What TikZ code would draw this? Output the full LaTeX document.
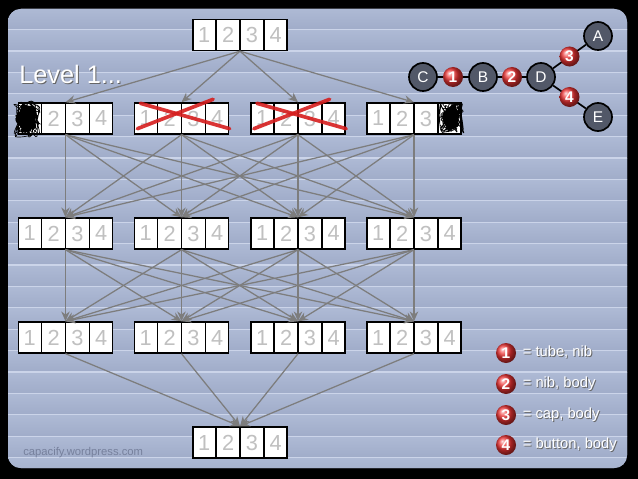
\documentclass[tikz,border=0pt]{standalone}
\usepackage{fontspec}
\setmainfont{Liberation Sans}
\usetikzlibrary{shapes.multipart,arrows.meta,positioning}

\definecolor{bgdark}{RGB}{160,172,201}
\definecolor{bglight}{RGB}{174,186,213}
\definecolor{stripe}{RGB}{203,212,233}
\definecolor{digit}{RGB}{192,192,192}
\definecolor{flowgray}{RGB}{125,125,125}
\definecolor{slate}{RGB}{82,88,104}
\definecolor{crossred}{RGB}{214,30,30}
\definecolor{ballred}{RGB}{238,52,52}
\definecolor{footer}{RGB}{118,128,156}

\newcommand\shadowed[1]{\leavevmode\rlap{\kern0.7pt\raisebox{-0.7pt}{\color{black!60}#1}}#1}

\begin{document}
\begin{tikzpicture}[
	x=0.025cm, y=-0.025cm,
	slotrow/.style={rectangle split, rectangle split horizontal, rectangle split parts=4,
		draw=black, line width=1pt, fill=white, inner xsep=0pt, inner ysep=0pt,
		text width=0.56cm, align=center, minimum height=0.775cm, text=digit,
		font=\fontsize{15.5}{15.5}\selectfont},
	flow/.style={draw=flowgray, line width=0.9pt, -{Stealth[length=7pt,width=6pt]}},
	cross/.style={draw=crossred, line width=2.6pt, line cap=round, opacity=0.9},
	scribble/.style={draw=black, line width=0.45pt},
	vert/.style={circle, draw=black, line width=1.2pt, fill=slate, minimum size=0.7cm,
		inner sep=0pt, text=white, font=\fontsize{11}{11}\selectfont},
	ball/.style={circle, ball color=ballred, minimum size=0.5cm, inner sep=0pt,
		text=white, font=\bfseries\fontsize{11}{11}\selectfont},
	link/.style={draw=black, line width=1.2pt},
	keytext/.style={text=white, font=\fontsize{10.5}{10.5}\selectfont, inner sep=3pt}]
\useasboundingbox (0,0) rectangle (638,479);
\fill[black] (0,0) rectangle (638,479);
\begin{scope}
	\clip[rounded corners=9pt] (8,9) rectangle (627,468);
	\fill[bgdark] (0,0) rectangle (638,479);
	\foreach \k in {-7,...,15} {
		\shade[top color=bglight, bottom color=bgdark] (8,{158+21.4*\k}) rectangle (627,{158+21.4*(\k+1)});
		\draw[stripe, line width=0.8pt] (8,{158+21.4*\k}) -- (627,{158+21.4*\k});
	}
\end{scope}

\node[slotrow] (src) at (240,35) {1\nodepart{two}2\nodepart{three}3\nodepart{four}4};
\node[slotrow] (sink) at (240,442.5) {1\nodepart{two}2\nodepart{three}3\nodepart{four}4};
\foreach \i/\x in {1/65.5,2/181.5,3/298,4/414} {
	\node[slotrow] (a\i) at (\x,118.5) {1\nodepart{two}2\nodepart{three}3\nodepart{four}4};
	\node[slotrow] (b\i) at (\x,233.5) {1\nodepart{two}2\nodepart{three}3\nodepart{four}4};
	\node[slotrow] (c\i) at (\x,337.5) {1\nodepart{two}2\nodepart{three}3\nodepart{four}4};
}

\foreach \i in {1,...,4} {
	\draw[flow] (src.south) -- (a\i.north);
	\draw[flow] (c\i.south) -- (sink.north);
	\foreach \j in {1,...,4} {
		\draw[flow] (a\i.south) -- (b\j.north);
		\draw[flow] (b\i.south) -- (c\j.north);
	}
}

\foreach \n in {a2,a3} {
	\draw[cross] ([shift={(3.5,-6)}]\n.south west) -- ([shift={(-16,-3)}]\n.north east);
	\draw[cross] ([shift={(6.5,1)}]\n.north west) -- ([shift={(0.5,-6)}]\n.south east);
}

\pgfmathsetseed{23}
\coordinate (s1) at ([xshift=0.28cm]a1.west);
\coordinate (s4) at ([xshift=-0.28cm]a4.east);
\fill[black, shift={(s1)}] plot[smooth cycle, domain=0:340, samples=18] ({-2+(10+2*rand)*cos(\x)},{(14+2*rand)*sin(\x)});
\fill[black, shift={(s4)}] plot[smooth cycle, domain=0:340, samples=18] ({1+(9+2*rand)*cos(\x)},{-1+(12+2*rand)*sin(\x)});
\draw[scribble, shift={(s1)}] plot[domain=1:80, samples=80, smooth] ({-2+13*rand},{1+18*rand});
\draw[scribble, shift={(s4)}] plot[domain=1:70, samples=70, smooth] ({1+12*rand},{-1+15*rand});

\node[text=white, font=\fontsize{18}{18}\selectfont, anchor=base west, inner sep=0pt] (level) at (19,84) {\shadowed{Level 1...}};

\node[vert] (C) at (423,77) {C};
\node[vert] (B) at (483,77) {B};
\node[vert] (D) at (541,77) {D};
\node[vert] (A) at (598,36) {A};
\node[vert] (E) at (598,117) {E};
\draw[link] (C) -- node[ball] (e1) {1} (B);
\draw[link] (B) -- node[ball] (e2) {2} (D);
\draw[link] (D) -- node[ball] (e3) {3} (A);
\draw[link] (D) -- node[ball] (e4) {4} (E);

\foreach \k/\y/\t in {1/353/{= tube, nib},2/384/{= nib, body},3/415/{= cap, body},4/445/{= button, body}} {
	\node[ball] (key\k) at (506,\y) {\k};
	\node[keytext, right=0.05cm of key\k] (lab\k) {\shadowed{\t}};
}

\node[text=footer, font=\fontsize{8}{8}\selectfont, anchor=base west, inner sep=0pt] (site) at (23,455) {capacify.wordpress.com};
\end{tikzpicture}
\end{document}
